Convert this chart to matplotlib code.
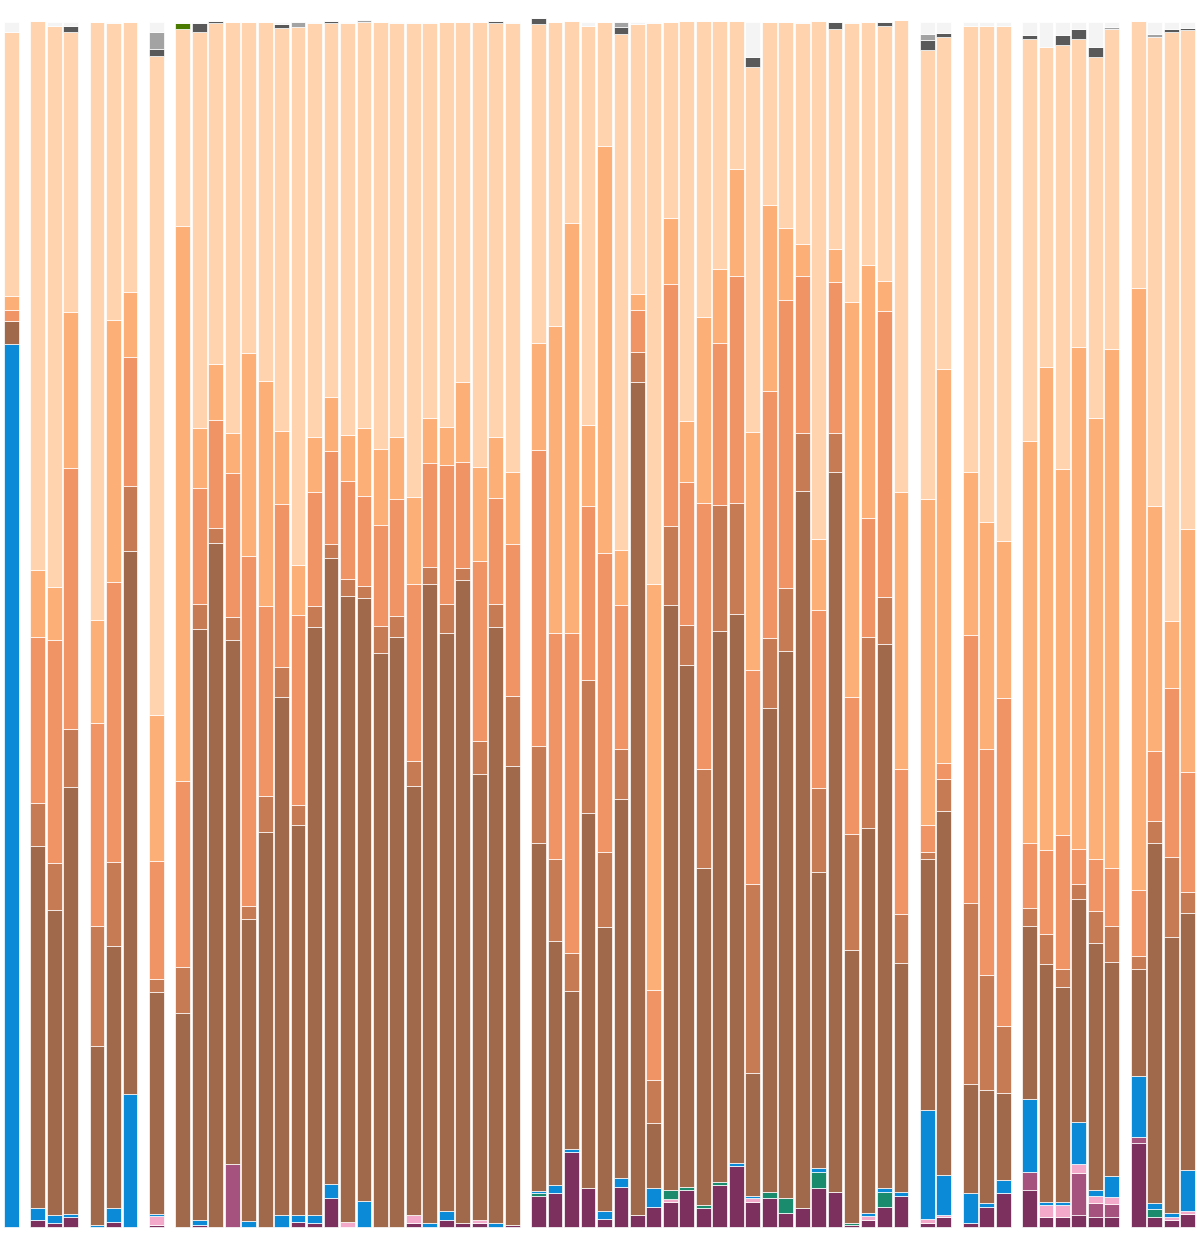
import matplotlib
matplotlib.use("Agg")
import matplotlib.pyplot as plt
import numpy as np

group_sizes = [1, 3, 3, 1, 21, 23, 2, 3, 6, 4]

purple = [0,0.6,0.3,0.8,0,0.4,0,0.2,0,0.2, 0,0,0,0,0,0.4,0.3,2.4,0,0,
          0,0,0.3,0,0.6,0.3,0.3,0,0.2,2.6, 2.8,6.2,3.2,0.7,3.3,1,1.7,2.1,3.1,1.6,
          3.5,5.1,2.1,2.4,1.2,1.6,3.2,2.9,0.2,0.6, 1.7,2.6,0.3,0.8,0.3,1.7,2.8,3.1,0.8,0.8,
          1,0.8,0.8,7,0.8,0.6,1.1]
mauve = {12: 5.2, 58: 1.5, 61: 3.5, 62: 1.2, 63: 1.1, 64: 0.5}
pink = {8: 0.7, 19: 0.4, 23: 0.7, 27: 0.3, 38: 0.2, 43: 0.3, 50: 0.3, 53: 0.4, 54: 0.2,
        59: 1, 60: 1, 61: 0.7, 62: 0.6, 63: 0.6, 66: 0.2, 67: 0.2}
teal = {30: 0.2, 38: 0.8, 39: 0.2, 40: 0.2, 41: 0.2, 44: 0.5, 45: 1.2, 47: 1.4, 49: 0.1,
        51: 1.2, 65: 0.7}
blue = [73.3,1.0,0.7,0.3,0.2,1.2,11,0.2,0,0.4, 0,0,0.5,0,1,0.6,0.7,1.2,0,2.2,
        0,0,0,0.3,0.7,0,0,0.3,0,0.2, 0.7,0.3,0,0.6,0.8,0,1.5,0,0,0,
        0,0.2,0.2,0,0,0,0.3,0,0,0.3, 0.3,0.3,9,3.3,2.5,0.3,1.1,6,0.3,0.3,
        3.5,0.5,1.7,5,0.5,0.4,3.4]
brown = [1.9,30,25.3,35.4,14.8,21.7,45.1,18.4,17.8,49, 56.8,43.5,25.1,32.8,43,32.4,48.8,51.9,52,50,
         47.6,49,35.6,53.1,48,53.4,37,49.5,38.1,28.9, 20.2,13.1,31.2,23.6,31.4,69.1,5.4,48.5,43.3,28,
         45.8,45.6,10.2,40.2,45.4,59.5,24.6,59.8,22.7,31.9, 45.2,19,20.8,30.2,9.1,9.4,7.2,14.4,19.7,17.8,
         18.5,20.5,17.8,8.9,29.9,22.9,21.4]
rust = [0,3.6,3.9,4.8,10,7,5.4,1.1,3.8,2.1, 1.2,1.9,1,3,2.5,1.6,1.7,1.2,1.4,1,
        2.3,1.7,2.1,1.4,2.4,1,2.7,1.9,5.8,8, 6.8,3.1,11,6.2,4.2,2.5,3.6,6.6,3.4,8.2,
        10.4,9.2,15.7,5.8,5.2,4.8,6.9,3.2,9.6,15.9, 3.9,4.1,0.6,2.7,15,9.5,5.6,1.5,2.5,1.5,
        1.3,2.6,3,1.1,1.8,6.6,1.7]
orange = [0.9,13.8,18.5,21.7,16.8,23.2,10.7,9.8,15.4,9.6, 9,12,29.1,15.7,13.5,15.8,9.5,7.7,8.1,7.5,
          8.4,9.7,14.7,8.6,11.5,8.8,15,8.8,12.6,24.6, 18.8,26.6,14.4,24.8,11.9,3.5,7.5,20.1,11.8,22.1,
          13.5,18.8,17.7,20.5,23.9,13,14.8,12.5,11.4,9.8, 23.7,12,2.3,1.3,22.2,18.8,27.2,5.4,7,11.1,
          2.9,4.3,4.8,5.5,5.8,14,10]
light_orange = [1.2,5.5,4.4,12.9,8.6,21.8,5.4,12.1,46.1,5, 4.6,3.3,16.8,18.7,6.1,4.1,4.6,4.5,3.8,5.6,
                6.3,5.2,7.2,3.7,3.2,6.6,7.8,5.1,6,8.9, 25.5,34,6.8,33.8,4.6,1.3,33.7,5.4,5.1,15.4,
                6.1,8.9,19.8,15.4,6,2.7,5.9,2.8,32.8,21, 2.5,23,27,32.7,13.6,18.8,13,33.3,40.1,30.4,
                41.6,36.6,43.1,49.9,20.3,5.6,20.1]
peach = [21.9,45.6,46.6,23.3,49.6,24.6,22.4,54.7,16.3,32.9, 28.3,34.1,27.5,29.8,33.4,44.7,34.3,31,34.2,33.7,
         35.4,34.3,39.3,32.8,33.6,29.9,36.9,34.3,37.2,26.4, 25.2,16.8,33.1,10.3,42.8,22.4,46.5,16.3,33.2,24.6,
         20.6,12.3,30.3,15.2,17.1,18.3,43,18.2,23.1,20.2, 21.2,39.2,37.3,27.6,37,41.2,42.8,33.4,26.5,35.2,
         25.6,30,26.5,22.2,39,48.9,41.4]
green = {9: 0.5}
dark_gray = {4: 0.5, 8: 0.6, 10: 0.7, 11: 0.2, 15: 0.3, 18: 0.2, 28: 0.2, 30: 0.5, 35: 0.6, 43: 0.8,
             48: 0.6, 51: 0.3, 53: 0.8, 54: 0.3, 58: 0.3, 60: 0.8, 61: 0.8, 62: 0.8, 66: 0.2, 67: 0.2}
light_gray = {8: 1.4, 16: 0.4, 20: 0.2, 35: 0.4, 53: 0.5, 63: 0.2, 65: 0.2}

n = len(brown)

def dense(d):
    return np.array([d.get(i + 1, 0.0) for i in range(n)])

series = [
    (np.array(purple), "#7b305e"),
    (dense(mauve), "#a5527f"),
    (dense(pink), "#f3a9c9"),
    (dense(teal), "#1b8b6e"),
    (np.array(blue), "#0b8ad8"),
    (np.array(brown), "#a1694c"),
    (np.array(rust), "#c67b55"),
    (np.array(orange), "#f09466"),
    (np.array(light_orange), "#fcb078"),
    (np.array(peach), "#fed3ad"),
    (dense(green), "#4a7a00"),
    (dense(dark_gray), "#595959"),
    (dense(light_gray), "#a3a3a3"),
]
total = sum(s for s, _ in series)
series.append((np.clip(100 - total, 0, None), "#f4f4f4"))

x = []
pos = 0.0
for g in group_sizes:
    for k in range(g):
        x.append(pos)
        pos += 1
    pos += 0.6
x = np.array(x)

fig = plt.figure(figsize=(12.01, 12.34), dpi=100)
ax = fig.add_axes([0, 0, 1, 1])
bottom = np.zeros(n)
for vals, col in series:
    ax.bar(x, vals, bottom=bottom, width=0.9, color=col, edgecolor="white", linewidth=0.5)
    bottom += vals

ax.set_xlim(-0.693, x[-1] + 0.45 + 0.364)
ax.set_ylim(-0.58, 101.83)
ax.axis("off")
fig.savefig("out.png", dpi=100)
